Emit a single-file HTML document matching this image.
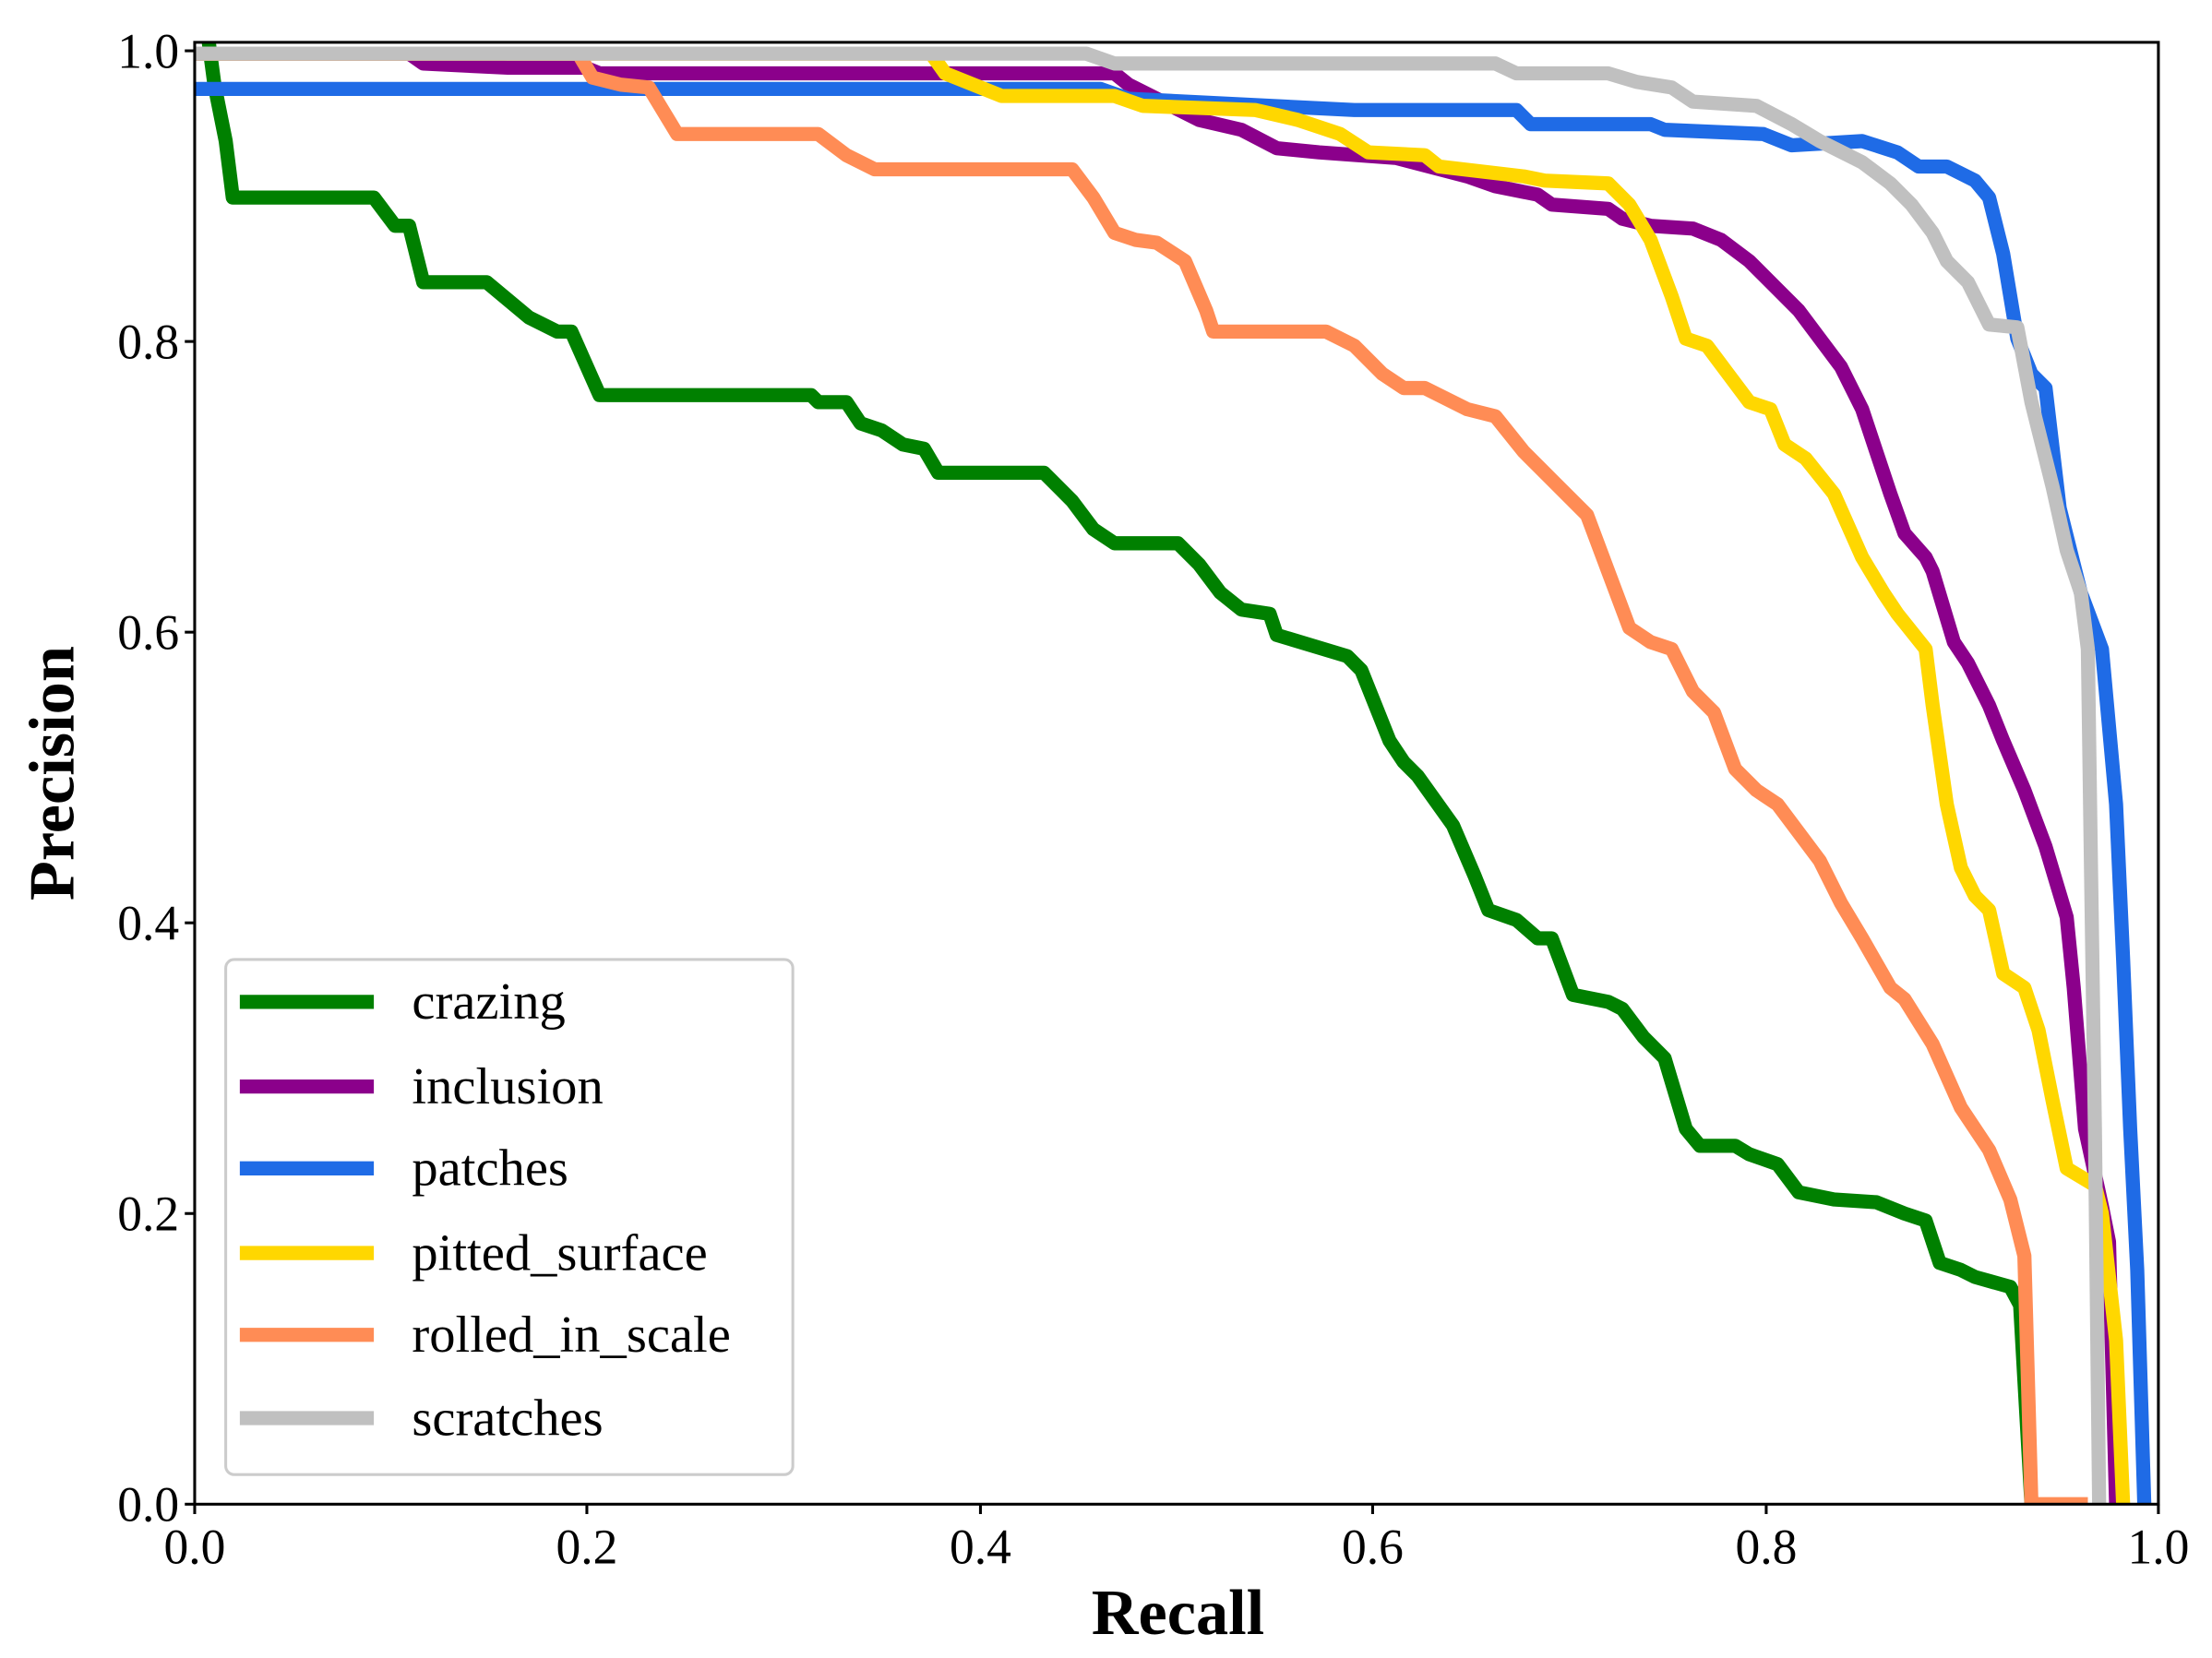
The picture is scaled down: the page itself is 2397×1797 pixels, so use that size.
<!DOCTYPE html>
<html><head><style>html,body{margin:0;padding:0;background:#fff}svg{display:block}</style></head>
<body>
<svg width="2397" height="1797" viewBox="0 0 1568 1175" preserveAspectRatio="none" xmlns="http://www.w3.org/2000/svg" font-family="'Liberation Serif',serif">
<rect width="1568" height="1175" fill="#fff"/>
<defs><clipPath id="c"><rect x="138" y="30" width="1392" height="1036"/></clipPath></defs>
<g clip-path="url(#c)" fill="none" stroke-width="10" stroke-linejoin="round">
<polyline stroke="#008000" points="148,30 152,60 160,100 165,140 265,140 280,160 290,160 300,200 345,200 375,225 395,235 405,235 425,280 575,280 580,285 600,285 610,300 625,305 640,315 655,318 665,335 740,335 760,355 775,375 790,385 835,385 850,400 865,420 880,432 900,435 905,450 955,465 965,475 985,525 995,540 1005,550 1030,585 1045,620 1055,645 1075,652 1090,665 1100,665 1115,705 1140,710 1150,715 1165,735 1180,750 1195,800 1205,812 1230,812 1240,818 1260,825 1275,845 1300,850 1330,852 1350,860 1365,865 1375,895 1390,900 1400,905 1425,912 1432,925 1440,1066"/>
<polyline stroke="#8B008B" points="138,38 290,38 300,45 360,48 415,48 425,52 790,52 800,60 830,75 850,85 880,92 905,105 935,108 990,112 1040,125 1060,132 1090,138 1100,145 1140,148 1150,155 1170,160 1200,162 1220,170 1240,185 1260,205 1275,220 1290,240 1305,260 1320,290 1330,320 1340,350 1350,378 1365,395 1370,405 1385,455 1395,470 1410,500 1420,525 1435,560 1450,600 1465,650 1470,700 1478,800 1490,855 1495,880 1500,1066"/>
<polyline stroke="#1F6BE6" points="138,63 780,63 800,70 960,78 1075,78 1085,88 1170,88 1180,92 1250,95 1270,103 1320,100 1345,108 1360,118 1380,118 1400,128 1410,140 1420,180 1430,240 1440,265 1450,275 1460,360 1475,420 1490,460 1500,570 1505,680 1510,800 1515,900 1520,1066"/>
<polyline stroke="#FFD700" points="138,38 660,38 670,52 690,60 710,68 790,68 810,75 890,78 920,85 950,95 970,108 1010,110 1020,118 1080,125 1095,128 1140,130 1155,145 1170,170 1185,210 1195,240 1210,245 1225,265 1240,285 1255,290 1265,315 1280,325 1300,350 1320,395 1335,420 1345,435 1365,460 1370,500 1380,570 1390,615 1400,635 1410,645 1420,690 1435,700 1445,730 1455,780 1465,828 1485,840 1490,860 1500,950 1505,1066"/>
<polyline stroke="#FF8C55" points="138,38 410,38 420,55 440,60 460,62 480,95 580,95 600,110 620,120 760,120 775,140 790,165 805,170 820,172 840,185 855,220 860,235 940,235 960,245 980,265 995,275 1010,275 1040,290 1060,295 1080,320 1100,340 1125,365 1140,405 1155,445 1170,455 1185,460 1200,490 1215,505 1230,545 1245,560 1260,570 1275,590 1290,610 1305,640 1320,665 1340,700 1350,708 1370,740 1390,785 1410,815 1425,850 1435,890 1440,1066 1480,1066"/>
<polyline stroke="#C0C0C0" points="138,38 770,38 790,45 1060,45 1075,52 1140,52 1160,58 1185,62 1200,72 1245,75 1270,88 1290,100 1320,115 1340,130 1355,145 1370,165 1380,185 1395,200 1410,230 1430,232 1440,285 1455,345 1465,390 1475,420 1480,460 1482,600 1485,800 1488,1066"/>
</g>
<rect x="138" y="30" width="1392" height="1036" fill="none" stroke="#000" stroke-width="2"/>
<g stroke="#000" stroke-width="2">
<line x1="138" y1="1066" x2="138" y2="1073"/><line x1="416" y1="1066" x2="416" y2="1073"/><line x1="695" y1="1066" x2="695" y2="1073"/><line x1="973" y1="1066" x2="973" y2="1073"/><line x1="1252" y1="1066" x2="1252" y2="1073"/><line x1="1530" y1="1066" x2="1530" y2="1073"/>
<line x1="131" y1="1066" x2="138" y2="1066"/><line x1="131" y1="860" x2="138" y2="860"/><line x1="131" y1="654" x2="138" y2="654"/><line x1="131" y1="448" x2="138" y2="448"/><line x1="131" y1="242" x2="138" y2="242"/><line x1="131" y1="36" x2="138" y2="36"/>
</g>
<g font-size="35" fill="#000" text-anchor="middle">
<text x="138" y="1108">0.0</text><text x="416" y="1108">0.2</text><text x="695" y="1108">0.4</text><text x="973" y="1108">0.6</text><text x="1252" y="1108">0.8</text><text x="1530" y="1108">1.0</text>
</g>
<g font-size="35" fill="#000" text-anchor="end">
<text x="127" y="1078">0.0</text><text x="127" y="872">0.2</text><text x="127" y="666">0.4</text><text x="127" y="460">0.6</text><text x="127" y="254">0.8</text><text x="127" y="48">1.0</text>
</g>
<text x="835" y="1158" font-size="46" font-weight="bold" text-anchor="middle">Recall</text>
<text transform="translate(52,548) rotate(-90)" font-size="46" font-weight="bold" text-anchor="middle">Precision</text>
<rect x="160" y="680" width="402" height="365" rx="6" fill="#fff" fill-opacity="0.8" stroke="#ccc" stroke-width="2"/>
<g stroke-width="10">
<line x1="170" y1="710" x2="265" y2="710" stroke="#008000"/>
<line x1="170" y1="770" x2="265" y2="770" stroke="#8B008B"/>
<line x1="170" y1="828" x2="265" y2="828" stroke="#1F6BE6"/>
<line x1="170" y1="888" x2="265" y2="888" stroke="#FFD700"/>
<line x1="170" y1="946" x2="265" y2="946" stroke="#FF8C55"/>
<line x1="170" y1="1005" x2="265" y2="1005" stroke="#C0C0C0"/>
</g>
<g font-size="37" fill="#000">
<text x="292" y="722">crazing</text><text x="292" y="782">inclusion</text><text x="292" y="840">patches</text><text x="292" y="900">pitted_surface</text><text x="292" y="958">rolled_in_scale</text><text x="292" y="1017">scratches</text>
</g>
</svg>
</body></html>
